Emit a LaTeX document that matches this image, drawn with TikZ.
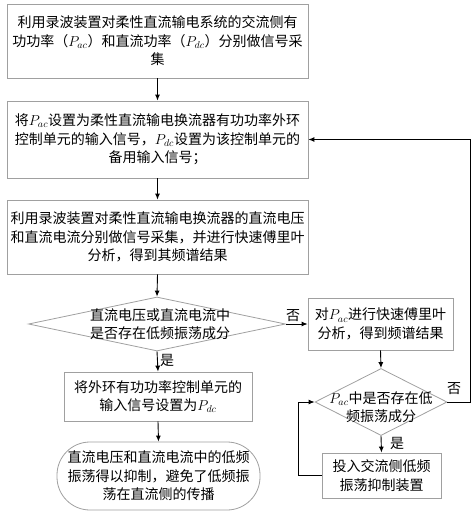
\documentclass[tikz,border=0pt]{standalone}
\usepackage{fontspec}
\setmainfont{Noto Sans CJK SC}
\usetikzlibrary{shapes.geometric,arrows.meta}
\definecolor{boxgray}{HTML}{A0A0A0}
\tikzset{
  txt/.style={font=\fontsize{14}{18.5}\selectfont, align=center, inner sep=0pt},
  stepbox/.style={draw=boxgray, line width=0.8pt, rectangle, inner sep=0pt},
  decbox/.style={draw=boxgray, line width=0.8pt, diamond, inner sep=0pt, shape aspect=1},
  endbox/.style={draw=boxgray, line width=0.8pt, rectangle, rounded corners=33pt, inner sep=0pt},
  arr/.style={line width=0.9pt, -{Latex[length=6pt,width=5pt]}},
  lbl/.style={font=\fontsize{14}{16}\selectfont, inner sep=0pt}
}
\begin{document}
\begin{tikzpicture}[x=1pt,y=-1pt]
\useasboundingbox (0,0) rectangle (474,519);
% boxes
\node[stepbox, minimum width=301pt, minimum height=74pt] (b1) at (157.5,41) {};
\node[txt] at (b1.center) {利用录波装置对柔性直流输电系统的交流侧有\\功功率（$P_{ac}$）和直流功率（$P_{dc}$）分别做信号采\\集};
\node[stepbox, minimum width=301pt, minimum height=77pt] (b2) at (157.5,139.5) {};
\node[txt] at (b2.center) {将$P_{ac}$设置为柔性直流输电换流器有功功率外环\\控制单元的输入信号，$P_{dc}$设置为该控制单元的\\备用输入信号；};
\node[stepbox, minimum width=301pt, minimum height=74pt] (b3) at (157.5,237) {};
\node[txt] at (b3.center) {利用录波装置对柔性直流输电换流器的直流电压\\和直流电流分别做信号采集，并进行快速傅里叶\\分析，得到其频谱结果};
\node[decbox, minimum width=257pt, minimum height=54pt] (d1) at (157,324) {};
\node[txt] at (160,324) {直流电压或直流电流中\\是否存在低频振荡成分};
\node[stepbox, minimum width=145pt, minimum height=52pt] (b4) at (380.5,324) {};
\node[txt] at (b4.center) {对$P_{ac}$进行快速傅里叶\\分析，得到频谱结果};
\node[stepbox, minimum width=188pt, minimum height=49pt] (b5) at (158,396.5) {};
\node[txt] at (b5.center) {将外环有功功率控制单元的\\输入信号设置为$P_{dc}$};
\node[endbox, minimum width=203pt, minimum height=68pt] (b7) at (158.5,476) {};
\node[txt] at (b7.center) {直流电压和直流电流中的低频\\振荡得以抑制，避免了低频振\\荡在直流侧的传播};
\node[decbox, minimum width=132pt, minimum height=67pt] (d2) at (381,402) {};
\node[txt] at (381,407) {$P_{ac}$中是否存在低\\频振荡成分};
\node[stepbox, minimum width=119pt, minimum height=45pt] (b6) at (381.5,475.5) {};
\node[txt] at (b6.center) {投入交流侧低频\\振荡抑制装置};
% connectors
\draw[arr] (b1.south) -- (b2.north);
\draw[arr] (b2.south) -- (b3.north);
\draw[arr] (b3.south) -- (d1.north);
\draw[arr] (d1.south) -- (b5.north);
\draw[arr] (b5.south) -- (b7.north);
\draw[arr] (d1.east) -- (b4.west);
\draw[arr] (b4.south) -- (d2.north);
\draw[arr] (d2.south) -- (b6.north);
\draw[arr] (b6.west) -- ++(-23,0) |- (d2.west);
\draw[arr] (d2.east) -- ++(23,0) |- (b2.east);
% labels
\node[lbl] (n1) at (293,316) {否};
\node[lbl] (y1) at (167,360) {是};
\node[lbl] (n2) at (454,389) {否};
\node[lbl] (y2) at (397,443) {是};
\end{tikzpicture}
\end{document}
